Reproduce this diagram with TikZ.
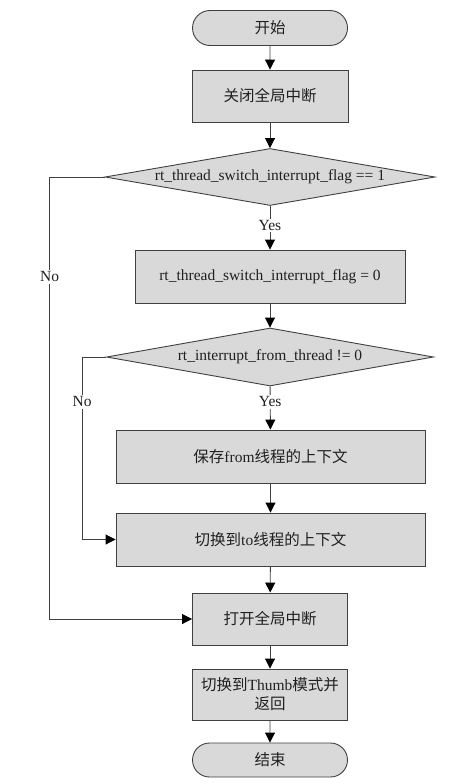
\documentclass[tikz,border=0pt]{standalone}
\usepackage{fontspec}
\usepackage{xcolor}
\setmainfont{Liberation Serif}
\newfontfamily\cjk{Noto Sans CJK SC}
\usetikzlibrary{positioning,shapes.geometric,shapes.misc,arrows.meta}
\definecolor{boxgray}{HTML}{D9D9D9}
\definecolor{linegray}{HTML}{404040}
\definecolor{txtgray}{HTML}{202020}

\begin{document}
\begin{tikzpicture}[x=1pt,y=-1pt]
\tikzstyle{every node}+=[inner sep=0pt, text=txtgray, font=\fontsize{15.5}{19}\selectfont]
\tikzstyle{term}=[rounded rectangle, draw=linegray, fill=boxgray, line width=0.9pt, minimum width=155pt, minimum height=35pt]
\tikzstyle{proc}=[rectangle, draw=linegray, fill=boxgray, line width=0.9pt, minimum height=52pt, align=center]
\tikzstyle{decide}=[diamond, draw=linegray, fill=boxgray, line width=0.9pt, aspect=5.7, minimum height=57pt]
\tikzstyle{arr}=[draw=linegray, line width=0.9pt, -{Triangle[length=10pt,width=10pt,black]}]
\tikzstyle{lbl}=[fill=white, inner sep=1.5pt]
\useasboundingbox (0,0) rectangle (474,784);
\node[term] (start) at (270,28) {\cjk 开始};
\node[proc, minimum width=156pt] (close) at (270,96) {\cjk 关闭全局中断};
\node[decide, minimum width=330pt] (flag) at (270,177) {rt\_thread\_switch\_interrupt\_flag == 1};
\node[proc, minimum width=270pt, minimum height=53pt] (clear) at (270,276.5) {rt\_thread\_switch\_interrupt\_flag = 0};
\node[decide, minimum width=327pt, minimum height=58pt] (fromth) at (270,357) {rt\_interrupt\_from\_thread != 0};
\node[proc, minimum width=309pt, minimum height=53pt] (save) at (270.5,456.5) {{\cjk 保存}from{\cjk 线程的上下文}};
\node[proc, minimum width=309pt, minimum height=53pt] (swto) at (270.5,539.5) {{\cjk 切换到}to{\cjk 线程的上下文}};
\node[proc, minimum width=155pt] (open) at (270,619) {\cjk 打开全局中断};
\node[proc, minimum width=155pt, minimum height=51pt] (thumb) at (270,694.5) {{\cjk 切换到}Thumb{\cjk 模式并}\\{\cjk 返回}};
\node[term, minimum height=34pt] (stop) at (270,760) {\cjk 结束};
\draw[arr] (start) -- (close);
\draw[arr] (close) -- (flag);
\draw[arr] (flag) -- node[lbl, pos=0.45] {Yes} (clear);
\draw[arr] (clear) -- (fromth);
\draw[arr] (fromth) -- node[lbl, pos=0.36] {Yes} (save);
\draw[arr] (save) -- (swto);
\draw[arr] (swto) -- (open);
\draw[arr] (open) -- (thumb);
\draw[arr] (thumb) -- (stop);
\draw[arr] (flag.west) -- ++(-55,0) |- node[lbl, pos=0.113] {No} (open.west);
\draw[arr] (fromth.west) -- ++(-24,0) |- node[lbl, pos=0.123] {No} (swto.west);
\end{tikzpicture}
\end{document}
